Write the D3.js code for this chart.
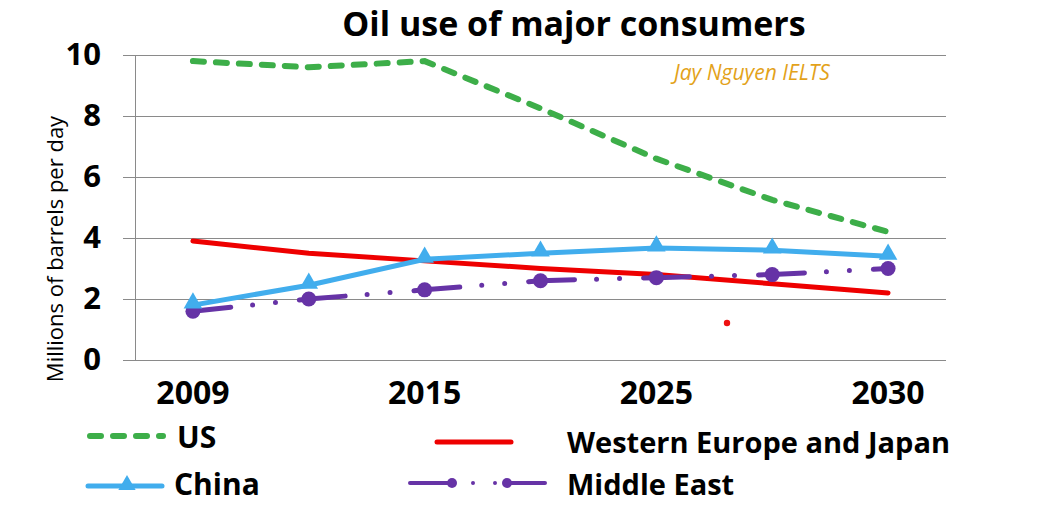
<!DOCTYPE html>
<html>
<head>
<meta charset="utf-8">
<title>Oil use of major consumers</title>
<script src="https://cdn.jsdelivr.net/npm/d3@7"></script>
<style>
  body { margin: 0; background: #fff; }
  svg { font-family: "Open Sans", "Noto Sans", sans-serif; }
</style>
</head>
<body>
<svg width="1058" height="526"></svg>
<script>
// data
var years = ["2009", "2012", "2015", "2020", "2025", "2028", "2030"];
var yearLabels = ["2009", "", "2015", "", "2025", "", "2030"];
var yTicks = [0, 2, 4, 6, 8, 10];
var us = [9.8, 9.6, 9.8, 8.25, 6.6, 5.25, 4.2];
var europeJapan = [3.9, 3.5, 3.25, 3.0, 2.8, 2.5, 2.2];
var china = [1.8, 2.45, 3.3, 3.5, 3.67, 3.6, 3.4];
var middleEast = [1.6, 2.0, 2.3, 2.6, 2.7, 2.8, 3.0];

var svg = d3.select("svg");
var plotLeft = 135, plotRight = 946, plotTop = 55, plotBottom = 360;

var x = d3.scaleBand().domain(years).range([plotLeft, plotRight]);
var y = d3.scaleLinear().domain([0, 10]).range([plotBottom, plotTop]);
var cx = function(d, i) { return x(years[i]) + x.bandwidth() / 2; };

// title
svg.append("text").attr("x", 574).attr("y", 36)
  .attr("text-anchor", "middle").style("font-size", "34px").style("font-weight", "bold")
  .text("Oil use of major consumers");

// gridlines
svg.append("g").selectAll("line").data(yTicks).enter().append("line")
  .attr("x1", plotLeft - 12).attr("x2", plotRight)
  .attr("y1", function(d) { return y(d) + 0.5; }).attr("y2", function(d) { return y(d) + 0.5; })
  .style("stroke", "#8a8a8a").style("stroke-width", 1);
svg.append("line").attr("x1", plotLeft + 0.5).attr("x2", plotLeft + 0.5).attr("y1", plotTop).attr("y2", plotBottom)
  .style("stroke", "#8a8a8a");

// y axis labels
var yAxis = d3.axisLeft(y).tickValues(yTicks).tickSize(0).tickPadding(0);
var gy = svg.append("g").attr("transform", "translate(101,0)").call(yAxis);
gy.select(".domain").remove();
gy.selectAll("text").style("font-size", "31px").style("font-weight", "bold")
  .style("font-family", "'Open Sans', sans-serif").attr("fill", "#000");

// x axis labels
var xAxis = d3.axisBottom(x).tickSize(0).tickPadding(0).tickFormat(function(d, i) { return yearLabels[i]; });
var gx = svg.append("g").attr("transform", "translate(0,381)").call(xAxis);
gx.select(".domain").remove();
gx.selectAll("text").style("font-size", "32px").style("font-weight", "bold")
  .style("font-family", "'Open Sans', sans-serif").attr("fill", "#000");

// y title
svg.append("text").attr("transform", "translate(63,249) rotate(-90)")
  .attr("text-anchor", "middle").style("font-size", "22px")
  .text("Millions of barrels per day");

// watermark
svg.append("text").attr("x", 752).attr("y", 80).attr("text-anchor", "middle")
  .style("font-size", "21px").style("font-style", "italic").attr("fill", "#e3a21a")
  .text("Jay Nguyen IELTS");

var line = d3.line().x(cx).y(function(d) { return y(d); });

// Western Europe and Japan
svg.append("path").datum(europeJapan).attr("d", line)
  .style("fill", "none").style("stroke", "#ee0000").style("stroke-width", 5).style("stroke-linecap", "round");

// US
svg.append("path").datum(us).attr("d", line)
  .style("fill", "none").style("stroke", "#3dae49").style("stroke-width", 6)
  .style("stroke-linecap", "round").style("stroke-dasharray", "11,12");

// Middle East
svg.append("path").datum(middleEast).attr("d", line)
  .style("fill", "none").style("stroke", "#6633a6").style("stroke-width", 5)
  .style("stroke-linecap", "round").style("stroke-dasharray", "46,22,0,23,0,24")
  .style("stroke-dashoffset", 8);
svg.append("g").selectAll("circle").data(middleEast).enter().append("circle")
  .attr("cx", cx).attr("cy", function(d) { return y(d); }).attr("r", 7.5)
  .attr("fill", "#6633a6");

// China
svg.append("path").datum(china).attr("d", line)
  .style("fill", "none").style("stroke", "#41aded").style("stroke-width", 5).style("stroke-linecap", "round");
var tri = d3.symbol().type(d3.symbolTriangle).size(150);
svg.append("g").selectAll("path").data(china).enter().append("path")
  .attr("d", tri).attr("fill", "#41aded")
  .attr("transform", function(d, i) { return "translate(" + cx(d, i) + "," + (y(d) - 2) + ")"; });

// stray red dot
svg.append("circle").attr("cx", 727).attr("cy", 323).attr("r", 3.2).attr("fill", "#ee1111");

// legend
var lg = svg.append("g");
lg.append("line").attr("x1", 90).attr("x2", 163).attr("y1", 436).attr("y2", 436)
  .style("stroke", "#3dae49").style("stroke-width", 6).style("stroke-linecap", "round")
  .style("stroke-dasharray", "11,12");
lg.append("text").attr("x", 177).attr("y", 448).style("font-size", "30px").style("font-weight", "bold").text("US");

lg.append("line").attr("x1", 88).attr("x2", 162).attr("y1", 486).attr("y2", 486)
  .style("stroke", "#41aded").style("stroke-width", 5).style("stroke-linecap", "round");
lg.append("path").attr("d", d3.symbol().type(d3.symbolTriangle).size(130))
  .attr("fill", "#41aded").attr("transform", "translate(127,485)");
lg.append("text").attr("x", 174).attr("y", 495).style("font-size", "30px").style("font-weight", "bold").text("China");

lg.append("line").attr("x1", 437).attr("x2", 511).attr("y1", 442).attr("y2", 442)
  .style("stroke", "#ee0000").style("stroke-width", 5).style("stroke-linecap", "round");
lg.append("text").attr("x", 567).attr("y", 453).style("font-size", "29px").style("font-weight", "bold").text("Western Europe and Japan");

lg.append("line").attr("x1", 410).attr("x2", 545).attr("y1", 483).attr("y2", 483)
  .style("stroke", "#6633a6").style("stroke-width", 4).style("stroke-linecap", "round")
  .style("stroke-dasharray", "42,21,0,22,0,12");
lg.selectAll("circle.m").data([452, 507]).enter().append("circle").attr("class", "m")
  .attr("cx", function(d) { return d; }).attr("cy", 483).attr("r", 5).attr("fill", "#6633a6");
lg.append("text").attr("x", 567).attr("y", 495).style("font-size", "29px").style("font-weight", "bold").text("Middle East");
</script>
</body>
</html>
